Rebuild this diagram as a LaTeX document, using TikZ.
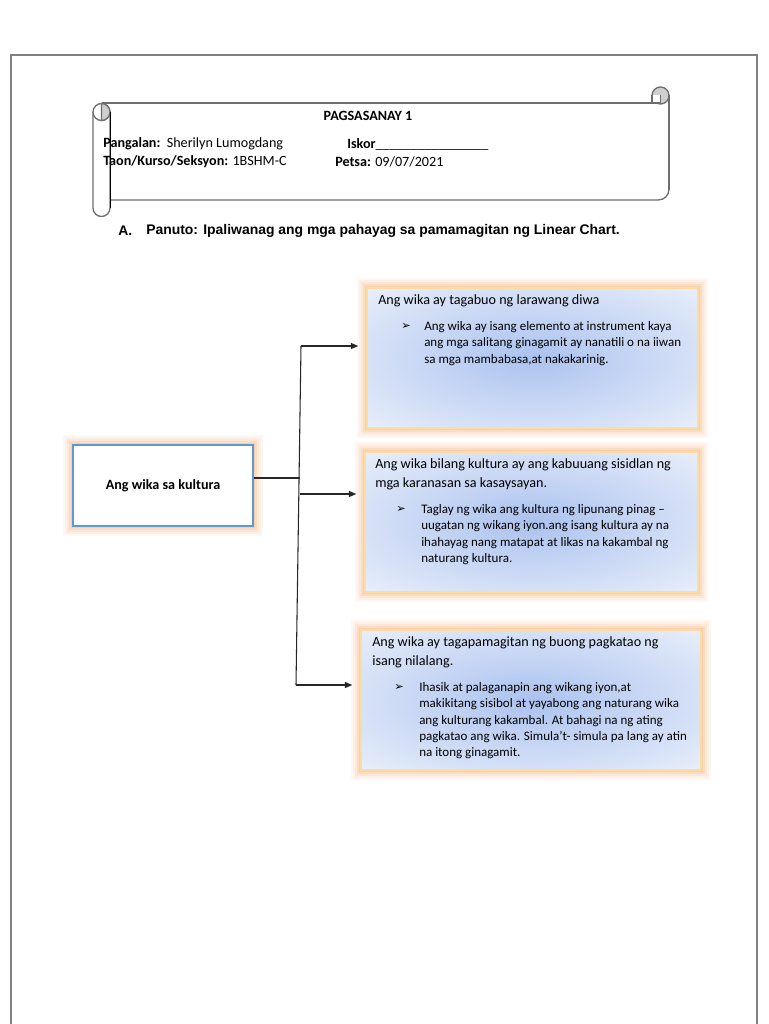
\documentclass[tikz,border=0pt]{standalone}
\usepackage{fontspec}
\setmainfont{Carlito}
\newfontfamily\arialfont{Liberation Sans}
\newfontfamily\symfont{DejaVu Sans}
\usepackage{tikz}
\usetikzlibrary{arrows.meta, positioning, calc}
\definecolor{framegray}{HTML}{808080}
\definecolor{scrollgray}{HTML}{6E6E6E}
\definecolor{curlfill}{HTML}{CFCFCF}
\definecolor{glow}{HTML}{F6A060}
\definecolor{boxedge}{HTML}{FDDCA0}
\definecolor{boxmid}{HTML}{ABC2EF}
\definecolor{boxout}{HTML}{F0F4FC}
\definecolor{wikablue}{HTML}{5B9BD5}
\tikzstyle{glowbox} = [preaction={draw=glow, line width=15pt, opacity=0.07}, preaction={draw=glow, line width=12pt, opacity=0.09}, preaction={draw=glow, line width=9pt, opacity=0.12}, preaction={draw=glow, line width=6pt, opacity=0.16}, preaction={draw=glow, line width=3pt, opacity=0.2}]
\tikzstyle{chartbox} = [rectangle, glowbox, draw=boxedge, line width=1.1pt, fill=boxout, minimum height=105pt, inner sep=0,
  path picture={\shade[inner color=boxmid, outer color=boxout] ($(path picture bounding box.center)!1.6!(path picture bounding box.south west)$) rectangle ($(path picture bounding box.center)!1.6!(path picture bounding box.north east)$);}]
\tikzstyle{topicbox} = [rectangle, glowbox, draw=wikablue, line width=1.1pt, fill=white, minimum width=135pt, minimum height=60.75pt, font=\fontsize{10.6}{12}\selectfont\bfseries]
\tikzstyle{boxtitle} = [anchor=north west, inner sep=0, align=left, font=\fontsize{10.6}{14.25}\selectfont]
\tikzstyle{bullettext} = [anchor=north west, inner sep=0, align=left, font=\fontsize{9.75}{12.3}\selectfont]
\tikzstyle{bulletmark} = [inner sep=0, font=\symfont\fontsize{8.5}{9}\selectfont]
\tikzstyle{headtext} = [anchor=west, inner sep=0, font=\fontsize{10.6}{12}\selectfont]
\tikzstyle{link} = [line width=0.8pt, black!85]
\tikzstyle{arrow} = [link, -{Triangle[length=5.5pt, width=4.5pt]}, shorten >=6pt]

\begin{document}
\begin{tikzpicture}[x=0.75pt, y=0.75pt]
  \useasboundingbox (0,0) rectangle (768,-1024);
  % page frame
  \draw[framegray, line width=1.5pt] (11,-1030) -- (11,-55) -- (757,-55) -- (757,-1030);

  % scroll
  \fill[white] (101.5,-103) rectangle (669,-200);
  \draw[scrollgray, line width=1pt] (101.5,-103) -- (652,-103);
  \draw[scrollgray, line width=1pt, rounded corners=8] (669,-95.5) -- (669,-200) -- (110,-200);
  \draw[scrollgray, line width=1pt, fill=white] (93,-112) -- (93,-208) arc(180:360:8.5) -- (110,-112);
  \draw[scrollgray, line width=1pt, fill=white] (101.5,-112) circle (8.5);
  \draw[scrollgray, line width=1pt, fill=curlfill] (101.5,-103.5) arc(90:-90:8.5) -- cycle;
  \draw[black, line width=0.7pt] (110,-112) -- (110,-208);
  \draw[scrollgray, line width=1pt, fill=curlfill] (660.5,-95.5) circle (8.5);
  \draw[scrollgray, line width=1pt, fill=white] (652,-95.5) -- (652,-103) -- (660.5,-103) -- (660.5,-95.5);
  \draw[scrollgray, line width=1pt] (669,-95.5) -- (669,-190);

  \node[font=\fontsize{10.6}{12}\selectfont\bfseries, inner sep=0] (title) at (368,-116) {PAGSASANAY 1};
  \node[headtext] (pangalan) at (103,-144) {\textbf{Pangalan:}\ \ Sherilyn Lumogdang};
  \node[headtext] (iskor) at (347,-144) {\textbf{Iskor}\_\_\_\_\_\_\_\_\_\_\_\_\_\_\_\_};
  \node[headtext] (taon) at (103,-162) {\textbf{Taon/Kurso/Seksyon:} 1BSHM-C};
  \node[headtext] (petsa) at (335,-162) {\textbf{Petsa:} 09/07/2021};

  \node[anchor=west, inner sep=0, font=\arialfont\bfseries\fontsize{10.45}{12}\selectfont] (partA) at (118,-231) {A.};
  \node[anchor=west, inner sep=0, font=\arialfont\bfseries\fontsize{10.45}{12}\selectfont] (panuto) at (146,-231) {Panuto: Ipaliwanag ang mga pahayag sa pamamagitan ng Linear Chart.};

  % chart
  \node[topicbox] (wika) at (163,-485.5) {Ang wika sa kultura};
  \node[chartbox, minimum width=248.25pt] (diwa) at (532.5,-358) {};
  \node[chartbox, minimum width=249.75pt] (kasaysayan) at (531.5,-522) {};
  \node[chartbox, minimum width=255pt] (nilalang) at (531,-700) {};

  \node[boxtitle] (diwaT) at (378,-294) {Ang wika ay tagabuo ng larawang diwa};
  \node[bulletmark] (diwaB) at (406,-326) {➢};
  \node[bullettext] (diwaP) at (424,-321) {Ang wika ay isang elemento at instrument kaya\\ang mga salitang ginagamit ay nanatili o na iiwan\\sa mga mambabasa,at nakakarinig.};

  \node[boxtitle] (kasaysayanT) at (375,-458) {Ang wika bilang kultura ay ang kabuuang sisidlan ng\\mga karanasan sa kasaysayan.};
  \node[bulletmark] (kasaysayanB) at (401,-509) {➢};
  \node[bullettext] (kasaysayanP) at (421,-504) {Taglay ng wika ang kultura ng lipunang pinag --\\uugatan ng wikang iyon.ang isang kultura ay na\\ihahayag nang matapat at likas na kakambal ng\\naturang kultura.};

  \node[boxtitle] (nilalangT) at (372,-636) {Ang wika ay tagapamagitan ng buong pagkatao ng\\isang nilalang.};
  \node[bulletmark] (nilalangB) at (399,-687) {➢};
  \node[bullettext] (nilalangP) at (419,-682) {Ihasik at palaganapin ang wikang iyon,at\\makikitang sisibol at yayabong ang naturang wika\\ang kulturang kakambal. At bahagi na ng ating\\pagkatao ang wika. Simula’t- simula pa lang ay atin\\na itong ginagamit.};

  \coordinate (join) at (300,-478);
  \coordinate (trunktop) at (301,-346);
  \coordinate (trunkmid) at (299.5,-494);
  \coordinate (trunkbot) at (296,-685);
  \draw[link] (wika.east |- join) -- (join);
  \draw[link] (trunktop) -- (trunkbot);
  \draw[arrow] (trunktop) -- (diwa.west |- trunktop);
  \draw[arrow] (trunkmid) -- (kasaysayan.west |- trunkmid);
  \draw[arrow] (trunkbot) -- (nilalang.west |- trunkbot);
\end{tikzpicture}
\end{document}
